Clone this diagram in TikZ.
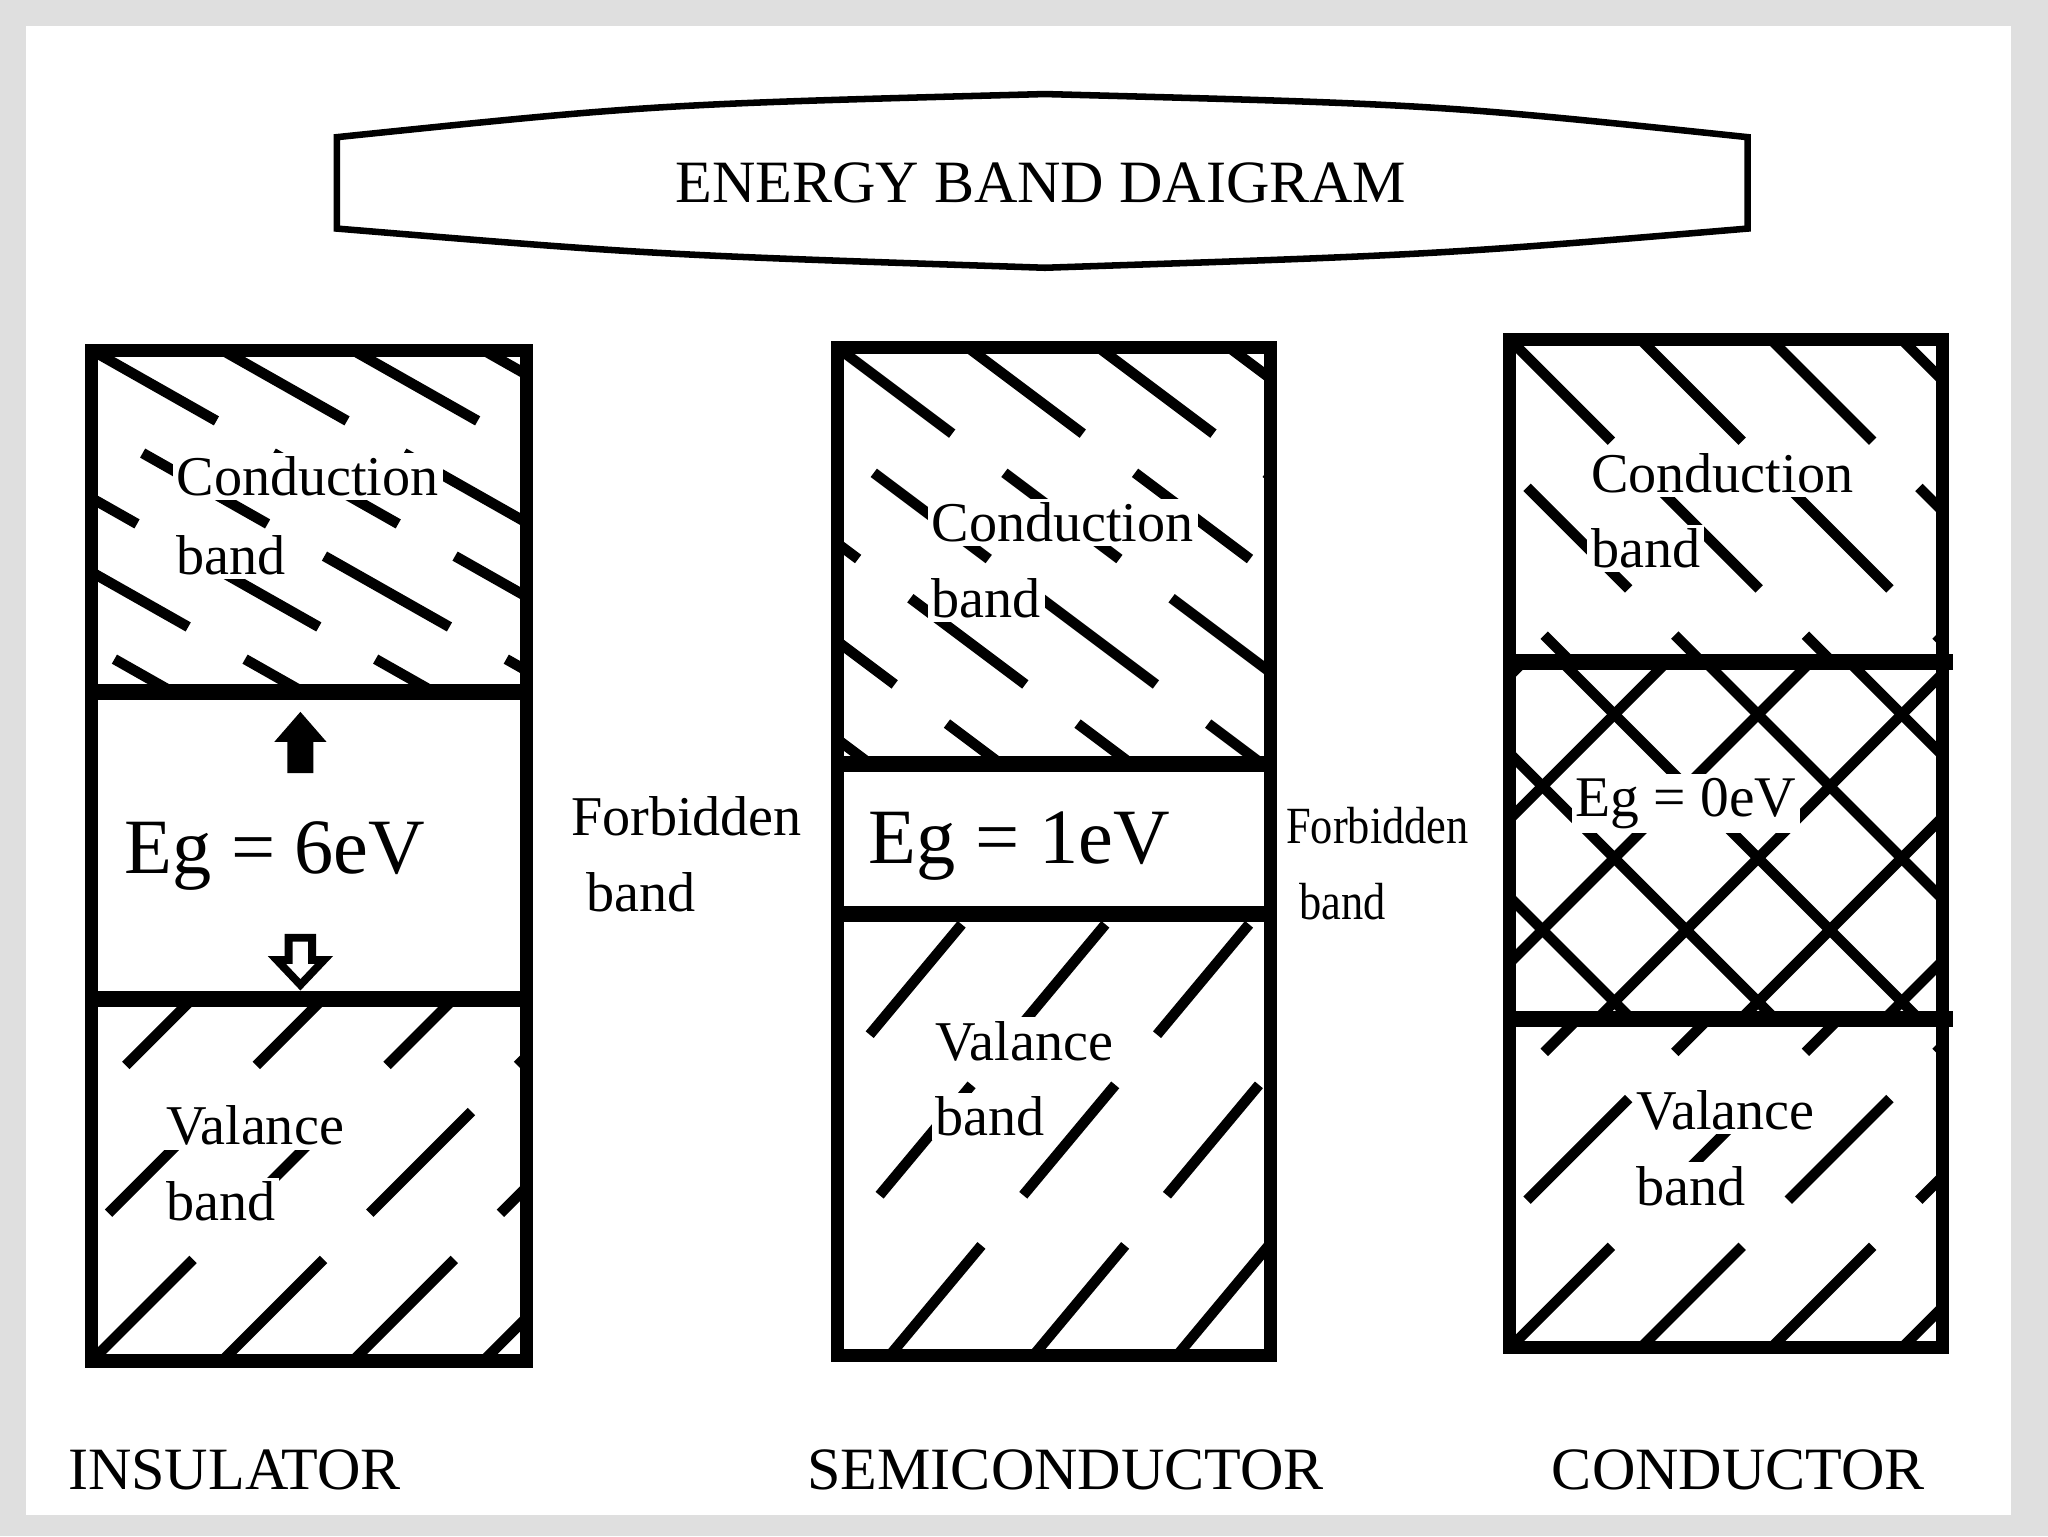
\documentclass[tikz,border=0pt]{standalone}
\usepackage{fontspec}
\setmainfont{Liberation Serif}
\begin{document}
\begin{tikzpicture}[x=1pt,y=-1pt,
  box/.style={line width=10pt,draw=black},
  hatch/.style={line width=8pt,black,dash pattern=on 110pt off 50pt},
  lbl/.style={anchor=west,inner sep=3pt,fill=white,font=\fontsize{43}{48}\selectfont},
  big/.style={anchor=west,inner sep=3pt,fill=white,font=\fontsize{60}{66}\selectfont},
  caplbl/.style={anchor=west,inner sep=0pt,font=\fontsize{46}{54}\selectfont}]
\useasboundingbox (0,0) rectangle (1568,1176);
\fill[gray!25] (0,0) rectangle (1568,1176);
\fill[white] (20,20) rectangle (1540,1160);
% title
\draw[line width=5pt] (258,105) .. controls (500,80) .. (800,72) .. controls (1100,80) .. (1338,105) -- (1338,175) .. controls (1100,195) .. (800,205) .. controls (500,195) .. (258,175) -- cycle;
\node (title) at (797,140) {\fontsize{46}{50}\selectfont ENERGY BAND DAIGRAM};
% ===== Insulator
\begin{scope}\clip (70,268) rectangle (403,530);
\foreach \s in {-400,-300,...,400} \draw[hatch] (70+\s,268) -- ++(600,340);
\end{scope}
\begin{scope}\clip (70,765) rectangle (403,1042);
\foreach \s in {-400,-300,...,400} \draw[hatch] (70+\s,1042) -- ++(500,-500);
\end{scope}
\node[lbl] (ic1) at (132,365) {Conduction};
\node[lbl] (ic2) at (132,425) {band};
\node[lbl] (iv1) at (124,862) {Valance};
\node[lbl] (iv2) at (124,920) {band};
\node[big,fill=none] (ieg) at (92,655) {Eg = 6eV};
\fill (230,545) -- (250,568) -- (240,568) -- (240,592) -- (220,592) -- (220,568) -- (210,568) -- cycle;
\draw[line width=6pt] (230,754) -- (212,735) -- (221,735) -- (221,718) -- (239,718) -- (239,735) -- (248,735) -- cycle;
\draw[box] (70,268) rectangle (403,1042);
\draw[line width=12pt] (70,530) -- (403,530);
\draw[line width=12pt] (70,765) -- (403,765);
\node[caplbl] (ins) at (52,1125) {INSULATOR};
% forbidden
\node[lbl,fill=none] (f1) at (434,625) {Forbidden};
\node[lbl,fill=none] (f2) at (446,683) {band};
% ===== Semiconductor
\begin{scope}\clip (641,266) rectangle (973,585);
\foreach \s in {-400,-300,...,400} \draw[hatch] (641+\s,266) -- ++(600,450);
\end{scope}
\begin{scope}\clip (641,700) rectangle (973,1038);
\foreach \s in {-400,-290,...,400} \draw[hatch] (641+\s,1038) -- ++(500,-600);
\end{scope}
\node[lbl] (sc1) at (710,400) {Conduction};
\node[lbl] (sc2) at (710,458) {band};
\node[lbl] (sv1) at (713,797) {Valance};
\node[lbl] (sv2) at (713,855) {band};
\node[big] (seg) at (662,648) {Eg = 1eV};
\draw[box] (641,266) rectangle (973,1038);
\draw[line width=12pt] (641,585) -- (973,585);
\draw[line width=12pt] (641,700) -- (973,700);
\node[caplbl] (semi) at (618,1125) {SEMICONDUCTOR};
\node[lbl,fill=none,font=\fontsize{40}{44}\selectfont,xscale=0.85] (g1) at (982,632) {Forbidden};
\node[lbl,fill=none,font=\fontsize{40}{44}\selectfont,xscale=0.85] (g2) at (992,690) {band};
% ===== Conductor
\begin{scope}\clip (1156,260) rectangle (1487,507);
\foreach \s in {-400,-300,...,400} \draw[hatch] (1156+\s,260) -- ++(600,600);
\end{scope}
\begin{scope}\clip (1156,507) rectangle (1487,780);
\foreach \s in {-400,-290,...,500} \draw[hatch,solid] (1156+\s,507) -- ++(500,500);
\foreach \s in {-100,10,...,800} \draw[hatch,solid] (1156+\s,507) -- ++(-500,500);
\end{scope}
\begin{scope}\clip (1156,780) rectangle (1487,1032);
\foreach \s in {-400,-300,...,400} \draw[hatch] (1156+\s,1032) -- ++(500,-500);
\end{scope}
\node[lbl] (cc1) at (1215,362) {Conduction};
\node[lbl] (cc2) at (1215,420) {band};
\node[lbl] (cv1) at (1250,850) {Valance};
\node[lbl] (cv2) at (1250,908) {band};
\node[lbl,font=\fontsize{44}{50}\selectfont] (ceg) at (1203,615) {Eg = 0eV};
\draw[box] (1156,260) rectangle (1487,1032);
\draw[line width=12pt] (1156,507) -- (1495,507);
\draw[line width=12pt] (1156,780) -- (1495,780);
\node[caplbl] (cond) at (1188,1125) {CONDUCTOR};
\end{tikzpicture}
\end{document}
